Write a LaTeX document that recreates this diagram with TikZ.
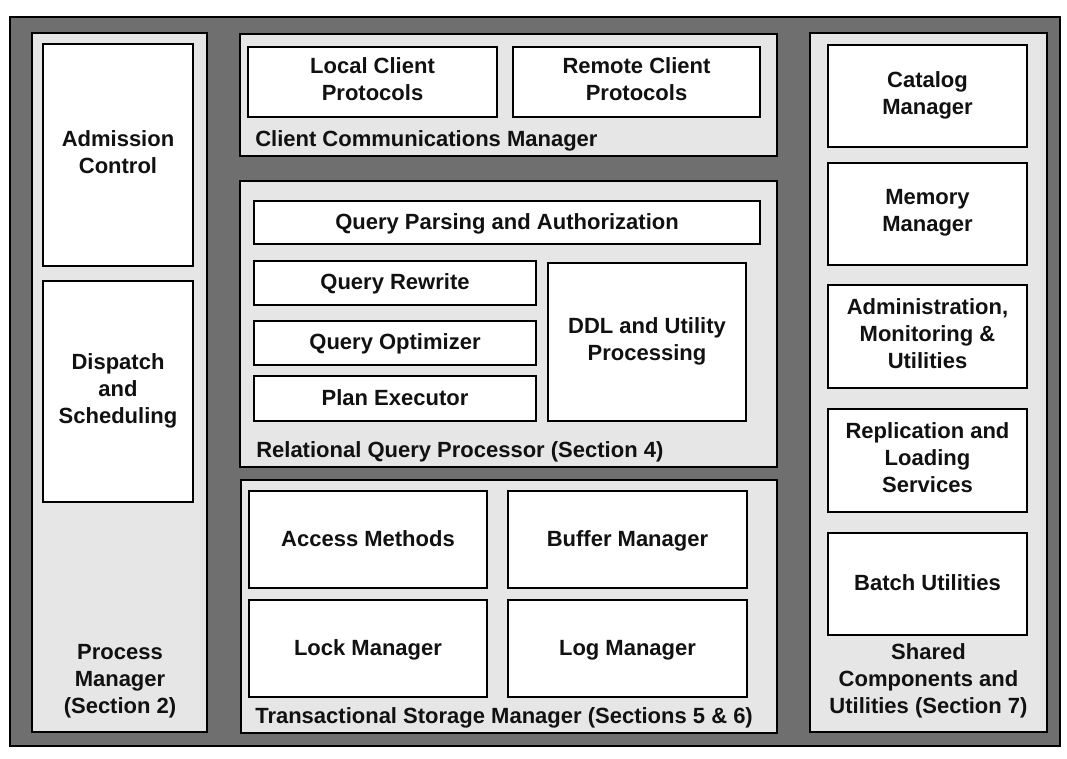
\documentclass[tikz,border=0pt]{standalone}
\usepackage{fontspec}
\setmainfont{Liberation Sans}
\definecolor{darkbg}{HTML}{6F6F6F}
\definecolor{panelbg}{HTML}{E6E6E6}
\definecolor{txt}{HTML}{111111}
\newcommand\mystrut{\rule[-0.3em]{0pt}{1.22em}}
\newcommand\mybox[7]{%
  \node[#6, minimum width={(#4-#2)*0.75pt}, minimum height={(#5-#3)*0.75pt}]
    (#1) at ({(#2+#4)/2},{(#3+#5)/2}) {#7};}
\begin{document}
\begin{tikzpicture}[x=0.75pt,y=-0.75pt,
  every node/.style={font=\bfseries\fontsize{16.5}{20.25}\selectfont, text=txt},
  frame/.style={draw=black, line width=1.5pt, fill=darkbg, inner sep=0pt, outer sep=0pt},
  panel/.style={draw=black, line width=1.5pt, fill=panelbg, inner sep=0pt, outer sep=0pt},
  comp/.style={draw=black, line width=1.5pt, fill=white, inner sep=0pt, outer sep=0pt, align=center,
    execute at begin node=\mystrut, execute at end node=\mystrut},
  lbl/.style={inner sep=0pt, align=center}]
\useasboundingbox (0,0) rectangle (1067,759);
\fill[white] (0,0) rectangle (1067,759);
% outer frame
\mybox{outer}{10}{17}{1060}{746}{frame}{}
% panels
\mybox{procpanel}{32}{33}{207}{732}{panel}{}
\mybox{clientpanel}{240}{34}{777}{156}{panel}{}
\mybox{relpanel}{240}{181}{777}{467}{panel}{}
\mybox{txpanel}{241}{480}{777}{733}{panel}{}
\mybox{sharedpanel}{810}{33}{1047}{732}{panel}{}
% process manager
\mybox{admission}{43}{44}{193}{266}{comp}{Admission\\Control}
\mybox{dispatch}{43}{281}{193}{502}{comp}{Dispatch\\and\\Scheduling}
\node[lbl] (proclbl) at (120,681) {Process\\Manager\\(Section 2)};
% client communications
\mybox{local}{248}{47}{497}{117}{comp}{Local Client\\Protocols}
\mybox{remote}{513}{47}{760}{117}{comp}{Remote Client\\Protocols}
\node[lbl, anchor=west] (clientlbl) at (255,141) {Client Communications Manager};
% relational query processor
\mybox{parse}{254}{201}{760}{244}{comp}{Query Parsing and Authorization}
\mybox{rewrite}{254}{261}{536}{305}{comp}{Query Rewrite}
\mybox{optim}{254}{321}{536}{365}{comp}{Query Optimizer}
\mybox{plan}{254}{376}{536}{421}{comp}{Plan Executor}
\mybox{ddl}{548}{263}{746}{421}{comp}{DDL and Utility\\Processing}
\node[lbl, anchor=west] (rellbl) at (256,452) {Relational Query Processor (Section 4)};
% transactional storage
\mybox{access}{249}{491}{487}{588}{comp}{Access Methods}
\mybox{buffer}{508}{491}{747}{588}{comp}{Buffer Manager}
\mybox{lock}{249}{600}{487}{697}{comp}{Lock Manager}
\mybox{log}{508}{600}{747}{697}{comp}{Log Manager}
\node[lbl, anchor=west] (txlbl) at (255,718) {Transactional Storage Manager (Sections 5 \& 6)};
% shared components
\mybox{catalog}{828}{45}{1027}{147}{comp}{Catalog\\Manager}
\mybox{memory}{828}{163}{1027}{265}{comp}{Memory\\Manager}
\mybox{admin}{828}{285}{1027}{388}{comp}{Administration,\\Monitoring \&\\Utilities}
\mybox{repl}{828}{409}{1027}{512}{comp}{Replication and\\Loading\\Services}
\mybox{batch}{828}{533}{1027}{635}{comp}{Batch Utilities}
\node[lbl] (sharedlbl) at (928.5,680.5) {Shared\\Components and\\Utilities (Section 7)};
\end{tikzpicture}
\end{document}
